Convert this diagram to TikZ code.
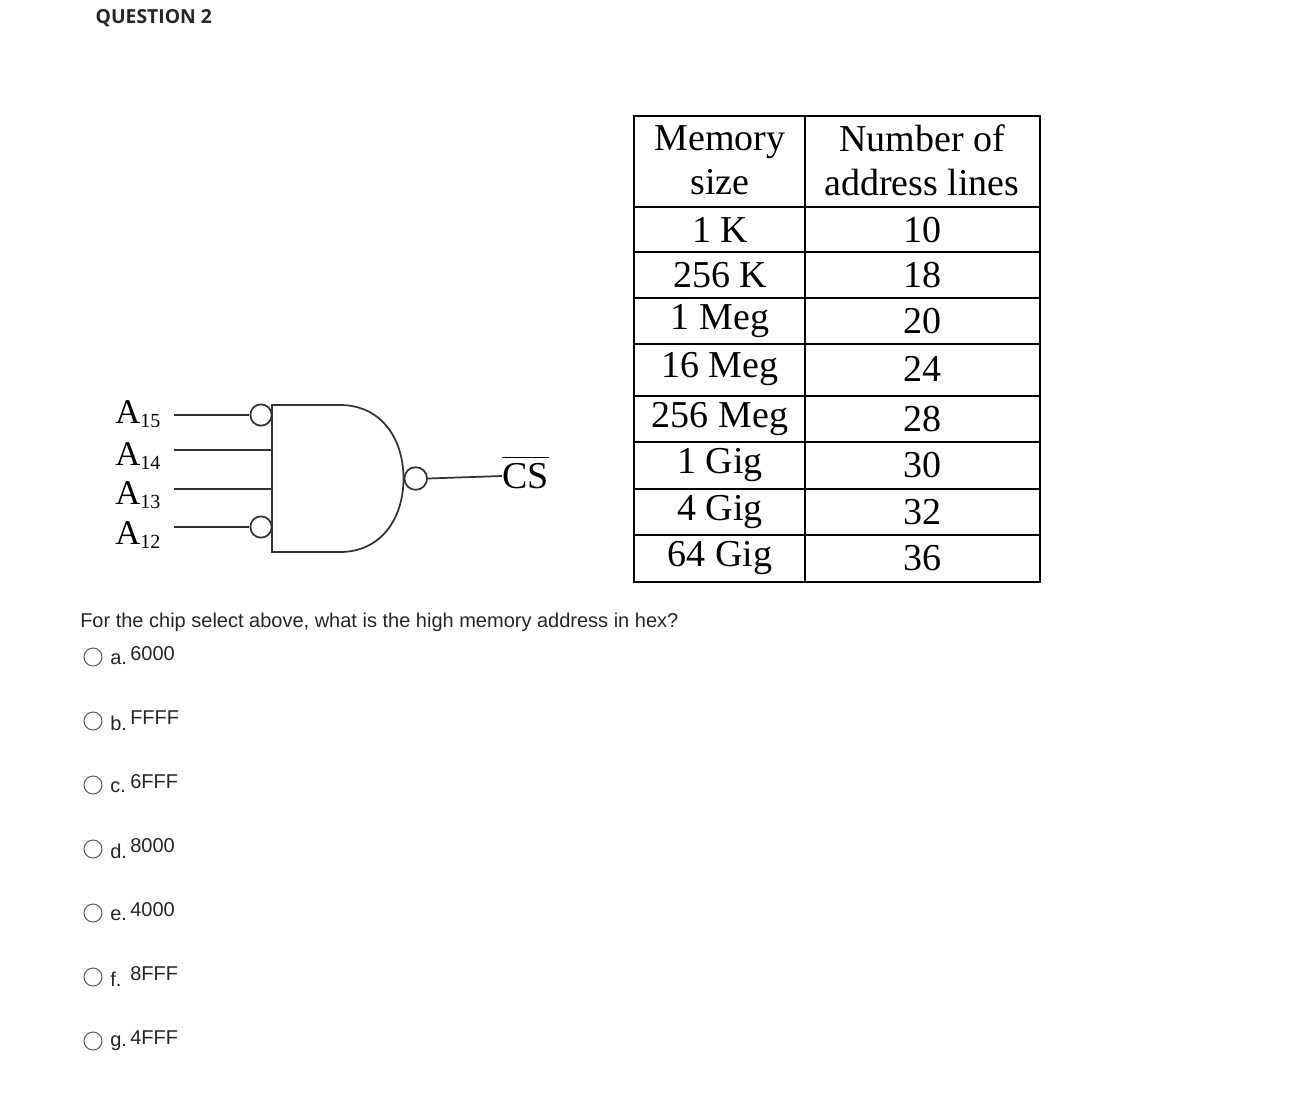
\documentclass[tikz,border=0pt]{standalone}
\usepackage{fontspec}
\setmainfont{Liberation Serif}
\newfontfamily\arial{Liberation Sans}
\newfontfamily\osans{Open Sans}
\newfontfamily\tnr{Liberation Serif}
\newcommand{\subn}[1]{\raisebox{-3pt}{\tnr\fontsize{15}{17}\selectfont #1}}
\begin{document}
\begin{tikzpicture}[x=0.75pt,y=-0.75pt,
  wire/.style={line width=1.3pt,black!80},
  tcell/.style={font=\tnr\fontsize{28.5}{33}\selectfont,inner sep=0},
  lbl/.style={font=\tnr\fontsize{26}{30}\selectfont,inner sep=0,anchor=west},
  qtext/.style={font=\arial\fontsize{15}{17}\selectfont,anchor=west,inner sep=0,text=black!85},
  radio/.style={draw=black!60,line width=0.8pt,circle,minimum size=13.5pt,inner sep=0}]
\useasboundingbox (0,0) rectangle (1312,1092);
\node[font=\osans\bfseries\fontsize{14.5}{16}\selectfont,anchor=west,text=black!85] (title) at (91,18) {QUESTION 2};
% gate
\draw[wire] (272,405) -- (340,405) .. controls (380.6,405) and (403.5,437.9) .. (403.5,478.5) .. controls (403.5,519) and (380.6,552) .. (340,552) -- (272,552) -- cycle;
\node[wire,draw,circle,minimum size=17pt,inner sep=0,anchor=west] (bo) at (403.5,478.5) {};
\node[wire,draw,circle,minimum size=16pt,inner sep=0] (b15) at (261,415) {};
\node[wire,draw,circle,minimum size=16pt,inner sep=0] (b12) at (261,527) {};
\coordinate (i14) at (272,450);
\coordinate (i13) at (272,489);
\node[lbl] (l15) at (115,414) {A\subn{15}};
\node[lbl] (l14) at (115,456) {A\subn{14}};
\node[lbl] (l13) at (115,495) {A\subn{13}};
\node[lbl] (l12) at (115,535) {A\subn{12}};
\coordinate (s15) at (174,415);\coordinate (s14) at (174,450);
\coordinate (s13) at (174,489);\coordinate (s12) at (174,527);
\draw[wire] (s15) -- (b15.west);
\draw[wire] (s14) -- (i14);
\draw[wire] (s13) -- (i13);
\draw[wire] (s12) -- (b12.west);
\node[tcell,anchor=west] (cs) at (502,476) {CS};
\draw[line width=1.2pt] ([yshift=4pt]cs.north west) -- ([yshift=4pt]cs.north east);
\draw[wire] (bo.east) -- (cs.west);
% table
\draw[line width=1.3pt] (634,116) rectangle (1040,582);
\draw[line width=1.3pt] (805,116) -- (805,582);
\foreach \y in {207,252,298,344,396,442,489,535}
  \draw[line width=1.3pt] (634,\y) -- (1040,\y);
\node[tcell,align=center] (h1) at (720,160) {Memory\\size};
\node[tcell,align=center] (h2) at (922,160) {Number of\\address lines};
\foreach \m/\n/\y [count=\i] in {1 K/10/230,256 K/18/275,1 Meg/20/321,16 Meg/24/369,256 Meg/28/419,1 Gig/30/465,4 Gig/32/512,64 Gig/36/558}{
  \node[tcell] (m\i) at (720,\y) {\m};
  \node[tcell] (n\i) at (922,\y) {\n};
}
% question
\node[qtext] (q) at (80,622) {For the chip select above, what is the high memory address in hex?};
\foreach \l/\a [count=\i from 0] in {a./6000,b./FFFF,c./6FFF,d./8000,e./4000,f./8FFF,g./4FFF}{
  \node[radio] (r\i) at (93,657+64*\i) {};
  \node[qtext] (k\i) at (110,659+64*\i) {\l};
  \node[qtext] (v\i) at (130,654+64*\i) {\a};
}
\end{tikzpicture}
\end{document}
